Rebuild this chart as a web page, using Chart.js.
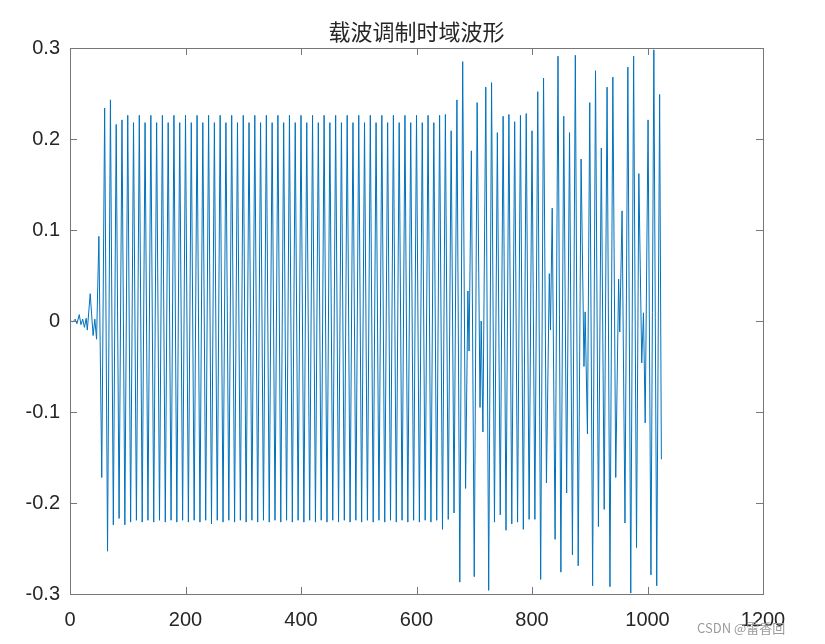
<!DOCTYPE html>
<html lang="zh">
  <head>
    <meta charset="UTF-8" />
    <title>载波调制时域波形</title>
    <script src="https://cdn.jsdelivr.net/npm/chart.js"></script>
    <style>
      html, body { margin: 0; padding: 0; background: #fff; }
      #wave { display: block; }
    </style>
  </head>
  <body>
    <canvas id="wave" width="825" height="644"></canvas>

    <script>
      // 起始的滤波过渡段（样点序号 / 幅值）
      const rampN = [1, 5, 9, 12, 16, 19, 22, 25, 28, 30, 35, 40, 43, 46, 50, 55];
      const rampV = [0.000, -0.001, 0.002, -0.003, 0.007, -0.004, 0.002, -0.007, 0.003, -0.010, 0.030, -0.016, 0.002, -0.020, 0.093, -0.172];

      // 稳定段：波峰 / 波谷
      const steadyN = [
        60, 65, 70, 75, 80, 85, 90, 95,
        100, 105, 110, 115, 120, 125, 130, 135, 140, 145, 150, 155, 160, 165, 170, 175, 180, 185, 190, 195,
        200, 205, 210, 215, 220, 225, 230, 235, 240, 245, 250, 255, 260, 265, 270, 275, 280, 285, 290, 295,
        300, 305, 310, 315, 320, 325, 330, 335, 340, 345, 350, 355, 360, 365, 370, 375, 380, 385, 390, 395,
        400, 405, 410, 415, 420, 425, 430, 435, 440, 445, 450, 455, 460, 465, 470, 475, 480, 485, 490, 495,
        500, 505, 510, 515, 520, 525, 530, 535, 540, 545, 550, 555, 560, 565, 570, 575, 580, 585, 590, 595,
        600, 605, 610, 615, 620, 625, 630, 635
      ];
      const steadyV = [
        0.234, -0.253, 0.243, -0.224, 0.216, -0.217, 0.221, -0.224,
        0.226, -0.221, 0.218, -0.219, 0.226, -0.221, 0.218, -0.219, 0.226, -0.221, 0.218, -0.219, 0.226, -0.221, 0.218, -0.219, 0.226, -0.221, 0.218, -0.219,
        0.226, -0.221, 0.218, -0.219, 0.226, -0.221, 0.218, -0.219, 0.226, -0.223, 0.218, -0.219, 0.226, -0.221, 0.218, -0.219, 0.226, -0.221, 0.218, -0.219,
        0.226, -0.221, 0.218, -0.219, 0.226, -0.221, 0.218, -0.219, 0.226, -0.221, 0.218, -0.219, 0.226, -0.221, 0.218, -0.219, 0.226, -0.221, 0.218, -0.219,
        0.226, -0.221, 0.218, -0.219, 0.226, -0.221, 0.218, -0.219, 0.226, -0.221, 0.218, -0.219, 0.226, -0.221, 0.218, -0.219, 0.226, -0.221, 0.218, -0.219,
        0.226, -0.221, 0.218, -0.219, 0.226, -0.221, 0.218, -0.219, 0.226, -0.221, 0.218, -0.219, 0.226, -0.221, 0.218, -0.219, 0.226, -0.221, 0.218, -0.219,
        0.226, -0.221, 0.218, -0.219, 0.226, -0.221, 0.218, -0.219
      ];

      // 相位跳变段
      const burstN = [
        640, 645, 650, 655, 660, 665, 670, 675, 680, 685, 689, 691, 695, 700, 705, 710, 712, 715,
        720, 725, 730, 735, 740, 745, 750, 755, 760, 765, 770, 775, 780, 785, 790, 795, 800, 805,
        810, 815, 820, 825, 830, 832, 835, 840, 845, 850, 855, 860, 865, 870, 875, 880, 885, 890,
        892, 896, 900, 905, 910, 915, 920, 925, 930, 935, 940, 945, 950, 952, 956, 961, 966, 971,
        976, 981, 985, 990, 993, 996, 1001, 1006, 1011, 1016, 1021, 1024
      ];
      const burstV = [
        0.226, -0.229, 0.227, -0.218, 0.209, -0.211, 0.243, -0.287, 0.285, -0.184, 0.033, -0.033, 0.187, -0.281, 0.240, -0.095, 0.000, -0.122,
        0.257, -0.296, 0.262, -0.221, 0.207, -0.213, 0.225, -0.230, 0.227, -0.223, 0.219, -0.221, 0.226, -0.229, 0.228, -0.218, 0.209, -0.218,
        0.252, -0.284, 0.267, -0.178, 0.052, -0.010, 0.124, -0.240, 0.291, -0.276, 0.225, -0.189, 0.207, -0.257, 0.292, -0.269, 0.178, -0.050,
        0.010, -0.124, 0.240, -0.291, 0.275, -0.226, 0.190, -0.207, 0.257, -0.292, 0.268, -0.172, 0.046, -0.012, 0.121, -0.222, 0.279, -0.299,
        0.291, -0.249, 0.162, -0.046, 0.009, -0.112, 0.221, -0.279, 0.298, -0.291, 0.249, -0.152
      ];

      const titleText = "载波调制时域波形";
      const markText = "CSDN @雷香回";

      const points = [];
      [[rampN, rampV], [steadyN, steadyV], [burstN, burstV]].forEach(([n, v]) => {
        n.forEach((x, i) => points.push({ x: x, y: v[i] }));
      });

      const tickFont = { family: "'Liberation Sans', Arial, sans-serif", size: 20 };
      const labelColor = "#262626";
      const boxColor = "#777777";

      // MATLAB 风格：外框、向内刻度、标题、水印
      const framePlugin = {
        id: "matlabFrame",
        afterDraw(chart) {
          const { ctx, chartArea: a, scales } = chart;
          ctx.save();
          ctx.strokeStyle = boxColor;
          ctx.lineWidth = 1;
          ctx.strokeRect(a.left + 0.5, a.top + 0.5, a.right - a.left, a.bottom - a.top);

          const len = 7;
          ctx.beginPath();
          scales.x.ticks.forEach((t) => {
            const px = Math.round(scales.x.getPixelForValue(t.value)) + 0.5;
            ctx.moveTo(px, a.bottom);
            ctx.lineTo(px, a.bottom - len);
            ctx.moveTo(px, a.top);
            ctx.lineTo(px, a.top + len);
          });
          scales.y.ticks.forEach((t) => {
            const py = Math.round(scales.y.getPixelForValue(t.value)) + 0.5;
            ctx.moveTo(a.left, py);
            ctx.lineTo(a.left + len, py);
            ctx.moveTo(a.right, py);
            ctx.lineTo(a.right - len, py);
          });
          ctx.stroke();

          ctx.fillStyle = labelColor;
          ctx.font = "22px 'Noto Sans CJK SC', sans-serif";
          ctx.textAlign = "center";
          ctx.textBaseline = "middle";
          ctx.fillText(titleText, (a.left + a.right) / 2, 32);

          ctx.fillStyle = "#9a9a9a";
          ctx.font = "13px 'Noto Sans CJK SC', sans-serif";
          ctx.textAlign = "left";
          ctx.fillText(markText, 697, 628);
          ctx.restore();
        },
      };

      new Chart(document.getElementById("wave"), {
        type: "line",
        data: {
          datasets: [
            {
              data: points,
              borderColor: "#0072BD",
              borderWidth: 1,
              pointRadius: 0,
              tension: 0,
              fill: false,
            },
          ],
        },
        options: {
          responsive: false,
          animation: false,
          events: [],
          layout: { padding: { top: 48, right: 62, left: 0, bottom: 0 } },
          plugins: { legend: { display: false }, tooltip: { enabled: false } },
          scales: {
            x: {
              type: "linear",
              min: 0,
              max: 1200,
              grid: { display: false, drawTicks: false },
              border: { display: false },
              ticks: {
                stepSize: 200,
                font: tickFont,
                color: labelColor,
                padding: 14,
                maxRotation: 0,
                callback: (v) => String(Math.round(v)),
              },
              afterFit: (s) => { s.height = 50; },
            },
            y: {
              min: -0.3,
              max: 0.3,
              grid: { display: false, drawTicks: false },
              border: { display: false },
              ticks: {
                stepSize: 0.1,
                font: tickFont,
                color: labelColor,
                padding: 10,
                callback: (v) => (Math.abs(v) < 1e-9 ? "0" : Number(v.toFixed(1)).toString()),
              },
              afterFit: (s) => { s.width = 70; },
            },
          },
        },
        plugins: [framePlugin],
      });
    </script>
  </body>
</html>
